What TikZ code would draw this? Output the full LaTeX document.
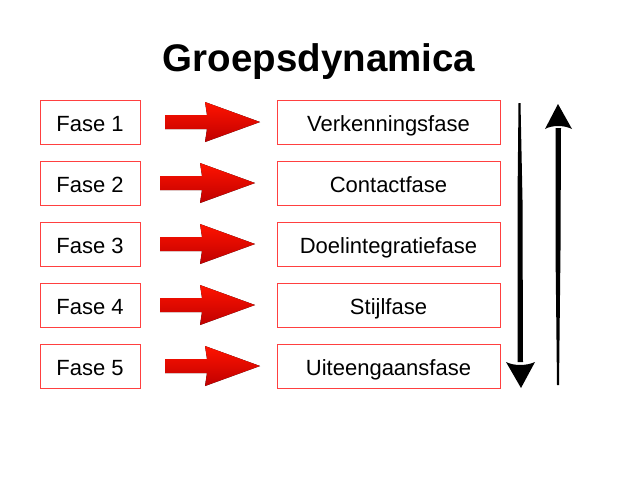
\documentclass[tikz,border=0pt]{standalone}
\usepackage{fontspec}
\setmainfont{Liberation Sans}
\begin{document}
\begin{tikzpicture}[x=1pt,y=-1pt,
  fbox/.style={draw=red!75!white,line width=0.8pt,minimum height=44pt,inner sep=0pt,text height=19pt,text depth=0pt,font=\fontsize{22}{26}\selectfont},
  redarr/.style={top color=red!85!orange,bottom color=red!75!black,draw=none}]
\useasboundingbox (0,0) rectangle (638,479);
\node[font=\fontsize{38.5}{44}\selectfont\bfseries] (title) at (319,62) {Groepsdynamica};
\foreach \i/\r/\dx in {1/Verkenningsfase/5,2/Contactfase/0,3/Doelintegratiefase/0,4/Stijlfase/0,5/Uiteengaansfase/5}{
  \pgfmathsetmacro\yy{122+61*(\i-1)}
  \node[fbox,minimum width=100pt] (f\i) at (90,\yy) {Fase \i};
  \node[fbox,minimum width=223pt] (r\i) at (388.5,\yy) {\r};
  \fill[redarr] (160+\dx,\yy-7) -- (202+\dx,\yy-7) -- (200+\dx,\yy-20) -- (255+\dx,\yy) -- (200+\dx,\yy+20) -- (202+\dx,\yy+7) -- (160+\dx,\yy+7) -- cycle;
}
% down arrow
\fill (518.5,103) -- (520.5,103) -- (522.5,200) -- (523,362) -- (517.5,362) -- (517.5,200) -- cycle;
\fill (506,362) .. controls (514,366) and (526,366) .. (535,362) -- (521,388) -- cycle;
% up arrow
\fill (557,385) -- (559,385) -- (560.5,250) -- (561,128) -- (555.5,128) -- (555.5,250) -- cycle;
\fill (545,129) .. controls (552,125) and (564,125) .. (572,129) -- (558,104) -- cycle;
\end{tikzpicture}
\end{document}
